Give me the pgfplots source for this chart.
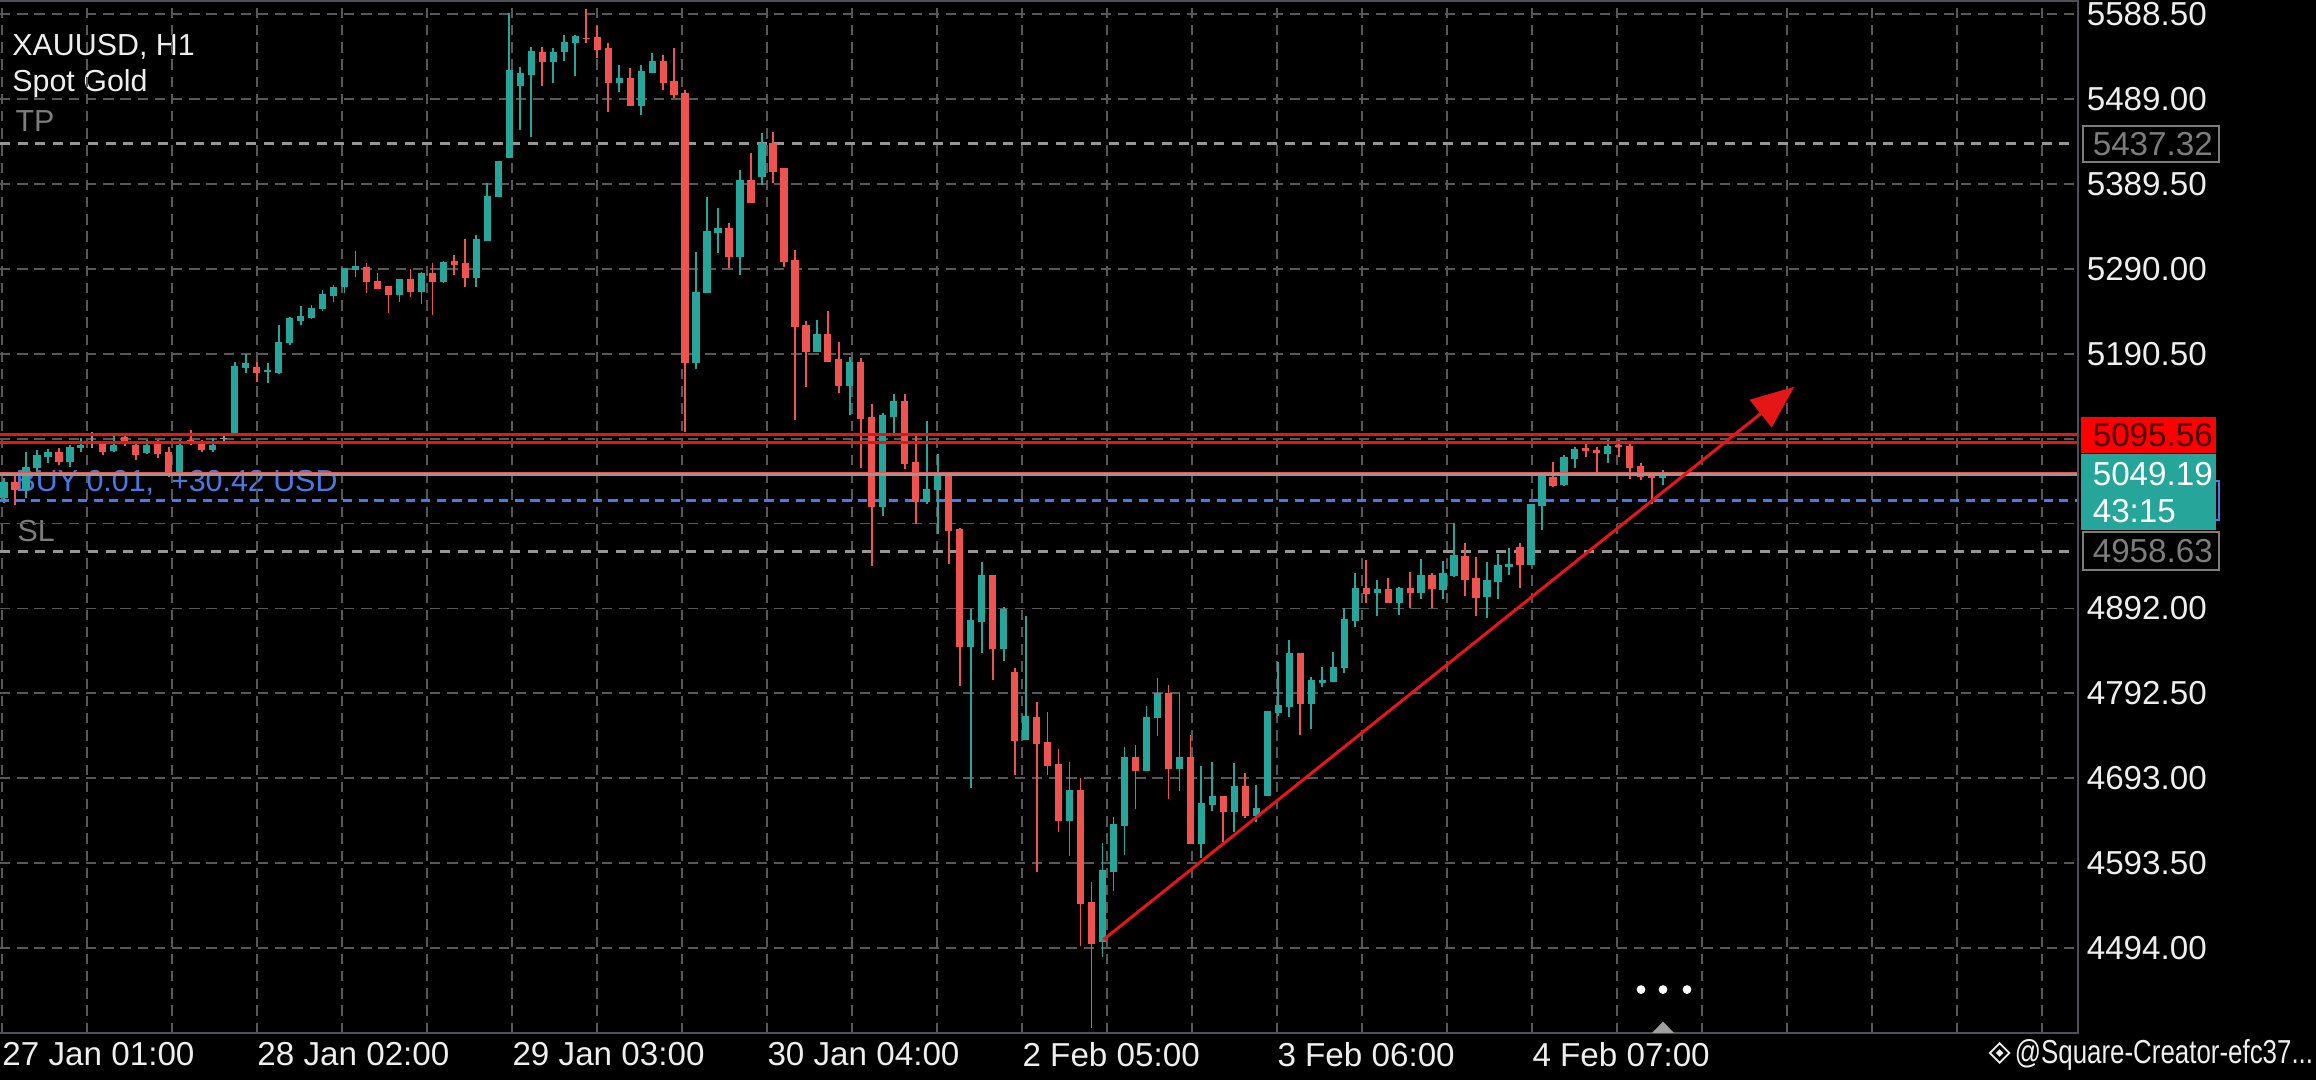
\documentclass[border=0pt]{standalone}
\usepackage{fontspec}
\setmainfont{Liberation Sans}
\usepackage{pgfplots}
\usepackage{pgfplotstable}
\pgfplotsset{compat=1.18}
\usetikzlibrary{arrows.meta}

\definecolor{bull}{RGB}{38,166,154}
\definecolor{bear}{RGB}{239,83,80}
\definecolor{dojigray}{RGB}{150,150,150}
\definecolor{gridgray}{RGB}{88,88,88}
\definecolor{levelgray}{RGB}{150,150,150}
\definecolor{framegray}{RGB}{78,78,84}
\definecolor{hred}{RGB}{228,22,22}
\definecolor{buyblue}{RGB}{72,122,230}
\definecolor{labelwhite}{RGB}{238,238,238}
\definecolor{dimtext}{RGB}{125,125,125}
\definecolor{boxred}{RGB}{255,0,0}

\newcommand{\lbl}{\fontsize{8.3}{10}\selectfont}
\newcommand{\ttl}{\fontsize{7.6}{9}\selectfont}

% XAUUSD H1 candles: index, open, high, low, close
\pgfplotstableread{
i o h l c
0 5021.1 5044.5 5015.0 5040.6
2 5030.8 5075.7 5021.1 5058.2
3 5056.2 5077.7 5052.3 5071.8
4 5069.1 5078.5 5062.1 5075.7
6 5064.0 5083.6 5057.4 5081.6
7 5079.6 5091.4 5075.7 5083.6
10 5076.9 5095.3 5075.7 5083.6
13 5073.8 5089.4 5073.0 5083.6
16 5050.4 5089.4 5050.4 5083.6
19 5077.7 5091.4 5075.7 5083.6
21 5098.0 5181.2 5096.0 5176.1
22 5173.3 5190.1 5168.3 5179.2
24 5168.7 5180.0 5156.5 5171.4
25 5168.3 5224.1 5166.7 5204.6
26 5202.7 5234.0 5200.7 5232.0
27 5229.2 5246.4 5224.1 5234.7
28 5232.0 5247.6 5230.8 5243.7
29 5242.5 5265.1 5240.9 5260.1
30 5258.5 5271.0 5251.5 5269.0
31 5268.3 5290.5 5261.2 5290.5
32 5288.6 5311.2 5280.0 5293.6
36 5259.7 5277.6 5251.5 5277.6
38 5263.2 5286.6 5248.7 5285.4
40 5274.9 5299.1 5273.7 5298.3
43 5279.6 5329.6 5269.0 5324.5
44 5322.2 5390.1 5322.2 5375.7
45 5374.5 5416.3 5374.5 5416.3
46 5420.2 5589.3 5420.2 5522.9
47 5504.5 5526.8 5452.6 5519.0
48 5517.0 5550.2 5444.8 5545.5
50 5532.6 5548.3 5508.0 5544.4
51 5543.6 5563.9 5533.8 5556.1
52 5554.9 5563.9 5515.9 5562.7
56 5507.3 5528.7 5497.5 5513.1
58 5480.7 5528.7 5470.2 5522.1
59 5519.0 5542.4 5519.0 5533.4
63 5179.2 5310.0 5172.2 5262.4
64 5261.2 5373.7 5261.2 5334.2
65 5332.3 5360.8 5308.1 5337.3
67 5303.4 5405.7 5282.7 5394.0
69 5397.1 5448.6 5388.1 5437.7
74 5192.8 5229.9 5192.8 5213.2
77 5152.6 5186.2 5118.7 5181.1
80 5010.8 5121.2 5000.9 5118.8
81 5116.3 5143.4 5098.1 5135.0
84 5016.7 5111.4 5014.2 5032.5
85 5030.5 5073.4 4979.7 5048.8
88 4846.6 4890.9 4681.4 4878.6
89 4876.2 4946.2 4840.2 4931.4
91 4844.1 4893.4 4830.3 4891.9
93 4738.1 4883.6 4738.1 4766.2
97 4642.9 4712.0 4602.5 4678.9
100 4501.4 4617.3 4484.2 4585.2
101 4583.8 4647.9 4560.6 4639.5
102 4636.7 4729.5 4602.8 4718.4
104 4701.9 4777.7 4701.9 4765.2
105 4763.3 4810.1 4742.6 4792.6
107 4703.5 4792.6 4678.5 4717.6
109 4616.0 4707.4 4599.2 4663.7
110 4661.7 4712.5 4655.1 4672.3
112 4653.9 4711.3 4630.5 4684.0
114 4648.8 4685.2 4642.2 4657.8
115 4672.3 4772.3 4672.3 4772.3
116 4769.9 4829.7 4766.0 4778.9
117 4776.9 4855.0 4765.2 4839.4
119 4780.1 4812.1 4750.4 4808.2
120 4804.3 4823.8 4800.4 4808.2
121 4806.2 4841.4 4806.2 4823.8
122 4821.9 4892.1 4816.0 4879.6
123 4877.7 4933.1 4869.9 4915.6
125 4909.7 4925.3 4883.2 4914.4
127 4898.8 4917.5 4884.3 4915.6
129 4910.5 4949.6 4902.7 4931.2
131 4913.6 4947.6 4902.7 4933.2
132 4930.0 4991.7 4928.5 4954.6
135 4905.0 4946.8 4880.4 4925.3
136 4923.4 4955.8 4902.7 4942.9
137 4941.0 4962.5 4931.2 4944.1
139 4942.9 5014.4 4942.9 5014.4
140 5012.0 5052.3 4983.9 5047.2
142 5036.7 5071.8 5035.5 5069.8
143 5066.7 5080.8 5056.2 5078.4
146 5073.0 5089.4 5062.0 5082.3
151 5044.5 5054.2 5036.7 5049.2
}\bulltab

\pgfplotstableread{
i o h l c
1 5040.6 5050.4 5013.3 5030.8
5 5075.7 5079.6 5060.1 5064.0
9 5084.3 5087.5 5071.8 5075.7
11 5093.3 5095.3 5082.4 5085.5
12 5083.6 5087.5 5066.0 5071.8
14 5084.7 5089.4 5067.9 5073.0
15 5075.7 5081.6 5046.5 5048.4
17 5089.4 5101.1 5083.6 5085.5
18 5085.5 5089.4 5075.7 5077.7
23 5175.3 5181.2 5157.7 5168.3
33 5292.5 5296.4 5262.0 5274.9
34 5276.1 5284.7 5266.7 5266.7
35 5269.8 5269.8 5238.6 5258.9
37 5277.6 5289.4 5256.6 5263.2
39 5284.7 5297.2 5235.9 5274.9
41 5299.1 5306.1 5282.7 5294.4
42 5296.4 5324.5 5268.3 5279.6
49 5544.4 5550.2 5504.1 5532.6
53 5560.8 5594.0 5554.9 5558.8
54 5561.2 5574.4 5536.6 5546.3
55 5548.3 5554.1 5474.1 5507.3
57 5513.1 5524.8 5480.7 5480.7
60 5533.4 5540.5 5499.5 5508.0
61 5510.0 5548.3 5489.7 5493.6
62 5496.3 5500.0 5099.1 5180.0
66 5337.3 5344.0 5290.5 5303.4
68 5394.0 5426.0 5367.4 5367.4
70 5437.7 5450.6 5390.1 5403.7
71 5408.4 5408.4 5292.4 5297.5
72 5300.2 5312.0 5112.8 5222.1
73 5224.1 5229.2 5151.1 5192.8
75 5213.2 5240.9 5181.1 5181.1
76 5183.9 5204.6 5144.8 5152.6
78 5181.1 5186.0 5056.1 5114.3
79 5116.3 5131.1 4941.7 5010.8
82 5135.0 5143.4 5055.2 5061.1
83 5063.5 5098.1 4991.1 5016.7
86 5048.8 5048.8 4943.7 4982.2
87 4984.6 4986.1 4800.7 4846.6
90 4931.4 4931.4 4808.6 4844.1
92 4818.0 4821.9 4697.2 4736.6
94 4765.2 4782.5 4583.8 4733.2
95 4735.6 4771.1 4697.2 4707.0
96 4710.0 4726.8 4629.6 4642.9
98 4678.9 4693.7 4496.5 4545.8
99 4548.3 4571.9 4400.3 4499.0
103 4718.4 4732.0 4656.7 4701.9
106 4792.6 4802.3 4668.4 4703.5
108 4717.6 4743.7 4616.0 4616.0
111 4672.3 4672.3 4618.8 4653.9
113 4684.0 4699.6 4646.1 4648.8
118 4839.4 4840.2 4743.7 4780.1
124 4915.6 4948.8 4898.0 4908.9
126 4914.4 4927.3 4898.8 4898.8
128 4915.6 4935.1 4892.2 4910.5
130 4931.2 4933.9 4892.2 4914.4
133 4953.5 4968.3 4906.6 4925.3
134 4927.3 4951.9 4883.2 4903.9
138 4963.6 4969.1 4915.6 4942.9
141 5046.4 5064.0 5034.7 5035.5
144 5079.6 5088.6 5069.1 5076.9
145 5077.7 5080.8 5051.1 5073.8
147 5083.5 5089.4 5069.1 5080.8
148 5082.3 5085.5 5043.3 5056.2
149 5058.9 5062.8 5042.5 5045.6
150 5048.4 5048.4 5014.4 5044.5
}\beartab

\pgfplotstableread{
i o h l c
8 5086.0 5099.2 5079.6 5086.0
20 5091.4 5098.0 5087.5 5091.4
}\dojitab

\begin{document}
\begin{tikzpicture}
\fill[black] (0,0) rectangle (579pt,270pt);

% header and level captions (behind the candles)
\node[anchor=base west, inner sep=0pt, text=labelwhite, font=\ttl] at (2.9pt,256.2pt) {XAUUSD, H1};
\node[anchor=base west, inner sep=0pt, text=labelwhite, font=\ttl] at (2.9pt,247.1pt) {Spot Gold};
\node[anchor=base west, inner sep=0pt, text=dimtext, font=\ttl] at (3.7pt,237.1pt) {TP};
\node[anchor=base west, inner sep=0pt, text=buyblue, font=\ttl] at (3.7pt,147pt) {BUY 0.01, \ +30.42 USD};
\node[anchor=base west, inner sep=0pt, text=dimtext, font=\ttl] at (4.2pt,134.5pt) {SL};

\begin{axis}[
  at={(0pt,11.75pt)}, anchor=south west,
  scale only axis, width=519.5pt, height=258.25pt,
  xmin=-0.364, xmax=188.8, ymin=4394.6, ymax=5604.9,
  axis line style={draw=none},
  tick style={draw=none},
  xtick={-0.21,7.53,15.27,23.00,30.74,38.48,46.22,53.96,61.69,69.43,77.17,84.91,92.65,100.38,108.12,115.86,123.60,131.34,139.07,146.81,154.55,162.29,170.03,177.76,185.50},
  xticklabels={27 Jan 01:00,,,28 Jan 02:00,,,29 Jan 03:00,,,30 Jan 04:00,,,2 Feb 05:00,,,3 Feb 06:00,,,4 Feb 07:00},
  ytick={4494,4593.5,4693,4792.5,4892,4991.5,5091,5190.5,5290,5389.5,5489,5588.5},
  yticklabels={4494.00,4593.50,4693.00,4792.50,4892.00,,,5190.50,5290.00,5389.50,5489.00,5588.50},
  yticklabel pos=right,
  grid=major,
  major grid style={gridgray, line width=0.45pt, dash pattern=on 2.6pt off 1.7pt},
  xticklabel style={font=\lbl, text=labelwhite, anchor=north west, inner sep=0pt, yshift=-2.2pt},
  yticklabel style={font=\lbl, text=labelwhite, anchor=west, inner sep=0pt, xshift=2pt},
]
% trade levels behind the candles
\addplot[forget plot, levelgray, line width=0.75pt, dash pattern=on 2.5pt off 1.9pt]
  coordinates {(-0.364,5437.32) (188.8,5437.32)};
\addplot[forget plot, levelgray, line width=0.75pt, dash pattern=on 2.5pt off 1.9pt]
  coordinates {(-0.364,4958.63) (188.8,4958.63)};
\addplot[forget plot, buyblue, line width=0.75pt, dash pattern=on 2.3pt off 1.6pt]
  coordinates {(-0.364,5018.77) (188.8,5018.77)};

% wicks
\addplot[forget plot, bull, line width=0.45pt, quiver={u=0, v=\thisrow{h}-\thisrow{l}}]
  table[x=i, y=l] {\bulltab};
\addplot[forget plot, bear, line width=0.45pt, quiver={u=0, v=\thisrow{h}-\thisrow{l}}]
  table[x=i, y=l] {\beartab};
\addplot[forget plot, dojigray, line width=0.45pt, quiver={u=0, v=\thisrow{h}-\thisrow{l}}]
  table[x=i, y=l] {\dojitab};
% bodies
\addplot[forget plot, bull, line width=1.8pt, quiver={u=0, v={max(\thisrow{c}-\thisrow{o},0.9)}}]
  table[x=i, y=o] {\bulltab};
\addplot[forget plot, bear, line width=1.8pt, quiver={u=0, v={max(\thisrow{o}-\thisrow{c},0.9)}}]
  table[x=i, y=c] {\beartab};
\addplot[forget plot, dojigray, line width=1.8pt, quiver={u=0, v=1.0}]
  table[x=i, y expr=\thisrow{o}-0.5] {\dojitab};

% horizontal levels over the candles
\addplot[forget plot, hred, line width=0.7pt] coordinates {(-0.364,5095.56) (188.8,5095.56)};
\addplot[forget plot, hred, line width=0.7pt] coordinates {(-0.364,5086.5) (188.8,5086.5)};
\addplot[forget plot, levelgray, line width=0.7pt] coordinates {(-0.364,5049.19) (188.8,5049.19)};
\addplot[forget plot, bear, line width=0.3pt] coordinates {(-0.364,5051.3) (188.8,5051.3)};

% trend line with arrow
\addplot[forget plot, color=hred, line width=0.75pt, -{Triangle[length=10.8pt,width=8.7pt]}]
  coordinates {(100.07,4503.8) (162.98,5151.8)};
\end{axis}

% frame
\draw[framegray, line width=0.6pt] (0,11.75pt) -- (519.5pt,11.75pt) -- (519.5pt,270pt);
\draw[framegray, line width=0.5pt] (0,269.75pt) -- (519.5pt,269.75pt);

% price boxes on the right scale
\draw[dimtext, line width=0.5pt, fill=black] (520.75pt,229.5pt) rectangle (554.75pt,238.5pt);
\node[anchor=west, inner sep=0pt, text=dimtext, font=\lbl] at (523pt,234pt) {5437.32};
\fill[boxred] (520.25pt,156.75pt) rectangle (554pt,165.75pt);
\node[anchor=west, inner sep=0pt, text={rgb,255:red,70;green,0;blue,0}, font=\lbl] at (523pt,161.3pt) {5095.56};
\draw[buyblue, line width=0.6pt, fill=black] (548pt,140pt) rectangle (554.8pt,149.75pt);
\fill[bull] (520.25pt,137.5pt) rectangle (554pt,156.5pt);
\node[anchor=west, inner sep=0pt, text=white, font=\lbl] at (523pt,151.5pt) {5049.19};
\node[anchor=west, inner sep=0pt, text=white, font=\lbl] at (523pt,142.2pt) {43:15};
\draw[dimtext, line width=0.5pt, fill=black] (520.75pt,127.5pt) rectangle (554.75pt,137pt);
\node[anchor=west, inner sep=0pt, text=dimtext, font=\lbl] at (523pt,132.2pt) {4958.63};

% menu dots and shift marker
\fill[white] (410.25pt,22.6pt) circle (1.1pt);
\fill[white] (415.75pt,22.6pt) circle (1.1pt);
\fill[white] (421.75pt,22.6pt) circle (1.1pt);
\fill[gray!75] (413pt,11.75pt) -- (418.5pt,11.75pt) -- (415.75pt,14.6pt) -- cycle;

% watermark
\draw[labelwhite, line width=0.45pt] (499.9pt,9.2pt) -- (502.35pt,6.75pt) -- (499.9pt,4.3pt) -- (497.45pt,6.75pt) -- cycle;
\fill[labelwhite] (499.9pt,7.7pt) -- (500.85pt,6.75pt) -- (499.9pt,5.8pt) -- (498.95pt,6.75pt) -- cycle;
\node[anchor=base west, inner sep=0pt, text=labelwhite, font=\lbl] at (503.5pt,4pt) {\scalebox{0.78}[1]{@Square-Creator-efc37...}};

\pgfresetboundingbox
\path (0,0) rectangle (579pt,270pt);
\end{tikzpicture}
\end{document}
